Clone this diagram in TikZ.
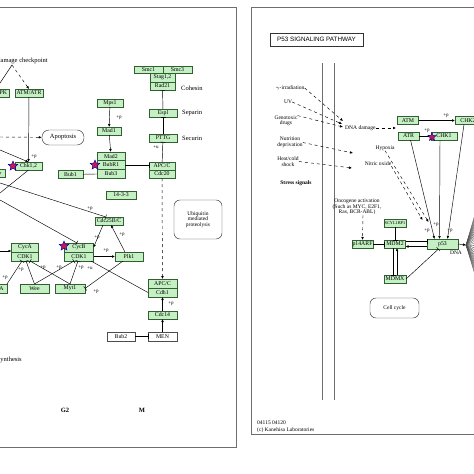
\documentclass[tikz,border=0pt]{standalone}
\usepackage{fontspec}
\setmainfont{Liberation Serif}
\setsansfont{Liberation Sans}
\usetikzlibrary{arrows.meta,shapes.geometric}
\definecolor{genefill}{RGB}{196,240,196}
\definecolor{boxline}{RGB}{50,95,50}
\definecolor{starred}{RGB}{200,25,75}
\definecolor{frame}{RGB}{110,110,110}
\newcommand\genefont{\fontsize{5.8}{6}\selectfont}
\newcommand\lblfont{\fontsize{6.5}{6.5}\selectfont}
\newcommand\smallfont{\fontsize{5.5}{5.5}\selectfont}
\newcommand\titlefont{\fontsize{6.3}{6.3}\selectfont}
\newcommand\ppfont{\fontsize{5}{5}\selectfont}

\begin{document}
\begin{tikzpicture}[x=1pt,y=-1pt,line width=0.45pt,
        gene/.style={draw=boxline, fill=genefill, inner sep=0pt, outer sep=0pt,
            minimum height=8pt, font=\genefont},
        plainbox/.style={gene, fill=white, draw=black!70},
        lbl/.style={font=\lblfont, inner sep=0pt, align=center},
        slbl/.style={font=\smallfont, inner sep=0pt, align=center},
        pp/.style={font=\ppfont, inner sep=0pt},
        roundbox/.style={draw=black!80, rounded corners=6pt, inner sep=0pt,
            align=center},
        kstar/.style={star, star points=5, star point ratio=2.2, fill=starred,
            draw=blue!70!black, inner sep=0pt, minimum size=10pt},
        act/.style={-{Latex[length=3pt,width=2.6pt]}},
        inh/.style={-{Bar[width=5pt]}}]
    \useasboundingbox (0,0) rectangle (474,474);
    \clip (0,0) rectangle (474,474);

    % Cadres des deux panneaux
    \draw[frame, line width=0.8pt] (-5,7) -- (236,7) -- (236,447) -- (-5,447);
    \draw[frame, line width=0.8pt] (480,7) -- (251,7) -- (251,434) -- (480,434);

    % ---------- Cycle cellulaire ----------
    \node[lbl, anchor=east] (ckpt) at (48,61) {DNA damage checkpoint};
    \coordinate (ck) at (12,65);
    \node[gene, minimum width=26pt] (dnapk) at (-4,93) {DNA-PK};
    \node[gene, minimum width=28pt] (atm) at (29,93) {ATM/ATR};
    \node[gene, minimum width=27pt] (chk12) at (28.5,166) {Chk1,2};
    \node[gene, minimum width=26pt] (gadd) at (-8,173.5) {14-3-3$\sigma$};
    \node[roundbox, minimum width=42pt, minimum height=15pt, font=\lblfont,
        rounded corners=7pt] (apo) at (63,137.5) {Apoptosis};
    \coordinate (apoin) at (0,137);
    \coordinate (chin) at (0,150);
    \coordinate (chout) at (0,193);
    \coordinate (la) at (0,183);
    \coordinate (lb) at (0,200);
    \draw (ck) -- (dnapk.north);
    \draw[act, dashed] (ck) -- (atm.north);
    \draw[act] (atm) -- (chk12);
    \node[pp] at (34,157) {+p};
    \draw[act, dashed] (apoin) -- (apo);
    \draw[act] (chin) -- (chk12.north);
    \draw (chk12.south) -- (chout);
    \node[kstar] at (13,166) {};

    % Cohesine, separine, securine
    \node[gene, minimum width=29pt, minimum height=7.5pt] (smc1) at (148.5,69.5) {Smc1};
    \node[gene, minimum width=29pt, minimum height=7.5pt] (smc3) at (177.5,69.5) {Smc3};
    \node[gene, minimum width=25pt, minimum height=8.5pt] (stag) at (162.5,77.5) {Stag1,2};
    \node[gene, minimum width=25pt, minimum height=8.5pt] (rad21) at (162.5,86) {Rad21};
    \node[gene, minimum width=28pt] (espl) at (163,113) {Espl};
    \node[gene, minimum width=28pt] (pttg) at (163,138) {PTTG};
    \node[lbl, anchor=west] (cohesin) at (181,88) {Cohesin};
    \node[lbl, anchor=west] (separin) at (182,113) {Separin};
    \node[lbl, anchor=west] (securin) at (182,138) {Securin};
    \draw[inh] (espl) -- (rad21);
    \draw[inh] (pttg) -- (espl);

    % Point de controle du fuseau
    \node[gene, minimum width=26pt] (mps1) at (110,103) {Mps1};
    \node[gene, minimum width=24pt] (mad1) at (109,131) {Mad1};
    \node[gene, minimum width=28pt, minimum height=8.7pt] (mad2) at (111,156.3) {Mad2};
    \node[gene, minimum width=28pt, minimum height=8.7pt] (bubr1) at (111,165) {BubR1};
    \node[gene, minimum width=28pt, minimum height=8.7pt] (bub3) at (111,173.7) {Bub3};
    \node[gene, minimum width=25pt] (bub1) at (70.5,174.5) {Bub1};
    \node[gene, minimum width=26pt] (apcc1) at (162,166) {APC/C};
    \node[gene, minimum width=26pt] (cdc20) at (162,174) {Cdc20};
    \draw[act] (mps1) -- (mad1);
    \node[pp] at (119,118) {+p};
    \draw[act] (mad1) -- (mad2);
    \draw (bub1) -- (bub3);
    \draw[inh] (bubr1.east) -- (apcc1.west |- bubr1.east);
    \draw[inh] (apcc1) -- (pttg);
    \node[pp] at (156,147) {+u};
    \node[kstar] at (95,165) {};
    \node[roundbox, minimum width=48pt, minimum height=39pt, font=\smallfont]
        (ubi) at (198,219.5) {Ubiquitin\\mediated\\proteolysis};

    % Entree en mitose
    \node[gene, minimum width=30pt] (b1433) at (121,195) {14-3-3};
    \node[gene, minimum width=28pt] (cdc25bc) at (109,221) {Cdc25B/C};
    \node[gene, minimum width=27pt, minimum height=9pt] (cyca) at (25,247.5) {CycA};
    \node[gene, minimum width=27pt, minimum height=9pt] (cdk1a) at (25,256.5) {CDK1};
    \node[gene, minimum width=29pt, minimum height=9pt] (cycb) at (79,247.5) {CycB};
    \node[gene, minimum width=29pt, minimum height=9pt] (cdk1b) at (79,256.5) {CDK1};
    \node[gene, minimum width=28pt, minimum height=9pt] (plk1) at (129,256.5) {Plk1};
    \node[gene, minimum width=26pt, minimum height=9pt] (cdc25a) at (-6,288.5) {Cdc25A};
    \node[gene, minimum width=29pt, minimum height=9pt] (wee) at (34.5,288.5) {Wee};
    \node[gene, minimum width=30pt, minimum height=9pt] (myt1) at (70,288.5) {Myt1};
    \draw[inh] (la) -- ([xshift=-3pt]cdc25bc.north);
    \node[pp] at (90,209) {+p};
    \draw[inh] (lb) -- ([xshift=-2pt]cycb.north);
    \draw[act] ([xshift=-6pt]cdc25bc.south) -- (cycb.east);
    \node[pp] at (97,238) {+p};
    \draw[act] ([xshift=-4pt]plk1.north) -- ([xshift=2pt]cdc25bc.south);
    \node[pp] at (122,235) {+p};
    \draw[act] (cdk1b) -- (plk1);
    \node[pp] at (106,251) {+p};
    \coordinate (cain) at (0,251);
    \draw[act] (cain) -- (cyca.west |- cain);
    \draw[inh] (cdc25a.north east) -- ([xshift=-3pt]cdk1a.south);
    \node[pp] at (5,278) {+p};
    \draw[inh] (wee.north) -- ([xshift=1pt]cdk1a.south);
    \draw[inh] (myt1.north) -- ([xshift=5pt]cdk1a.south);
    \draw[inh] (wee.north) -- ([xshift=-5pt]cdk1b.south);
    \draw[inh] (myt1.north) -- ([xshift=-1pt]cdk1b.south);
    \node[pp] at (21,270) {+p};
    \node[pp] at (43,268) {+p};
    \node[pp] at (59,268) {+p};
    \node[pp] at (81,268) {+p};
    \node[pp] at (90,268) {+u};
    \draw[inh] ([xshift=-6pt]plk1.south) -- (myt1.east);
    \node[pp] at (96,292) {+p};
    \node[kstar] at (64,246) {};

    % Sortie de mitose
    \node[gene, minimum width=29pt, minimum height=9pt] (apcc2) at (162.5,283.5) {APC/C};
    \node[gene, minimum width=29pt, minimum height=9pt] (cdh1) at (162.5,292.5) {Cdh1};
    \node[gene, minimum width=29pt] (cdc14) at (162.5,315) {Cdc14};
    \node[plainbox, minimum width=29pt, minimum height=9pt] (men) at (162.5,336.5) {MEN};
    \node[plainbox, minimum width=28pt, minimum height=9pt] (bub2) at (121,336.5) {Bub2};
    \draw[act, dashed] (cdc20) -- (apcc2);
    \draw ([xshift=12pt]cdk1b.south) -- (cdh1.west);
    \draw[act] (cdc14) -- (cdh1);
    \node[pp] at (171,304) {+p};
    \draw[act] (men) -- (cdc14);
    \draw[inh] (bub2) -- (men);

    % Phases
    \node[lbl, anchor=east] (synth) at (22,360) {DNA biosynthesis};
    \node[lbl, font=\lblfont\bfseries] (g2) at (65,410) {G2};
    \node[lbl, font=\lblfont\bfseries] (mph) at (142,410) {M};

    % ---------- Voie p53 ----------
    \node[draw=black!80, minimum width=93pt, minimum height=13pt, inner sep=0pt,
        font=\sffamily\titlefont] (title) at (316.5,39.5) {P53 SIGNALING PATHWAY};
    % Membrane
    \draw[frame, line width=1pt] (322,63) -- (322,400);
    \draw[frame, line width=1pt] (334,63) -- (334,400);

    % Signaux de stress
    \node[slbl] (gamma) at (290,88) {$\gamma$-irradiation};
    \node[slbl] (uv) at (288,102) {UV};
    \node[slbl] (geno) at (286,121) {Genotoxic\\drugs};
    \node[slbl] (nutri) at (290,142.5) {Nutrition\\deprivation};
    \node[slbl] (heat) at (288,161.5) {Heat/cold\\shock};
    \node[slbl, font=\smallfont\bfseries] (stress) at (296,183) {Stress signals};
    \node[slbl, anchor=west] (dnadmg) at (345,128) {DNA damage};
    \node[slbl] (hypoxia) at (385,148) {Hypoxia};
    \node[slbl] (nitric) at (378,164) {Nitric oxide};
    \node[slbl] (onco) at (357,207) {Oncogene activation\\(Such as MYC, E2F1,\\Ras, BCR-ABL)};
    \coordinate (nu) at (353,153);
    \coordinate (he) at (352,168);
    \coordinate (dd) at (396,128);
    \draw[act, dashed] (gamma.east) -- ([xshift=-2pt,yshift=7pt]dnadmg.west);
    \draw[act, dashed] (uv.east) -- ([xshift=-3pt,yshift=4pt]dnadmg.west);
    \draw[act, dashed] (geno.north east) -- ([xshift=-2pt,yshift=1pt]dnadmg.west);
    \draw[act, dashed] (nutri.east) -- (nu);
    \draw[act, dashed] (heat.east) -- (he);
    \draw[act, dashed] (dnadmg) -- (dd);

    % Kinases
    \node[gene, minimum width=21pt] (atm2) at (408,120.5) {ATM};
    \node[gene, minimum width=21pt] (atr) at (408.5,136) {ATR};
    \node[gene, minimum width=26pt] (chk2) at (468,120.5) {CHK2};
    \node[gene, minimum width=26pt] (chk1) at (444,136) {CHK1};
    \draw[act] (atm2) -- (chk2);
    \node[pp] at (446,116) {+p};
    \draw[act] (atr) -- (chk1);
    \node[pp] at (427,131) {+p};
    \node[kstar, minimum size=8.5pt] at (432,137) {};

    % p53 et ses regulateurs
    \node[gene, minimum width=31pt, minimum height=10pt] (p53) at (442.5,244) {p53};
    \node[gene, minimum width=21pt] (mdm2) at (395,244) {MDM2};
    \node[gene, minimum width=21pt] (p14arf) at (362.5,244) {p14ARF};
    \node[gene, minimum width=22pt, font=\fontsize{4.3}{5}\selectfont] (scyl) at (395,223) {SCYL1BP1};
    \node[gene, minimum width=22pt] (mdmx) at (395,279) {MDMX};
    \node[roundbox, minimum width=49pt, minimum height=20pt, font=\smallfont]
        (cellcyc) at (394.5,308) {Cell cycle};
    \draw[act] ([xshift=2pt]atr.south) -- ([xshift=-8pt]p53.north);
    \draw[act] ([xshift=-4pt]chk1.south) -- ([xshift=-3pt]p53.north);
    \draw[act] ([xshift=-4pt]chk2.south) -- ([xshift=5pt]p53.north);
    \draw[act, dashed] (hypoxia.south) -- ([xshift=-14pt,yshift=17pt]p53.north);
    \draw[act, dashed] (nitric.south east) -- ([xshift=-20pt,yshift=19pt]p53.north);
    \node[pp] at (427,231) {+p};
    \node[pp] at (436,225) {+p};
    \node[pp] at (450,231) {+p};
    \draw[act, dashed] ([xshift=6pt]onco.south) -- (p14arf.north);
    \draw[inh] (p14arf) -- (mdm2);
    \draw[inh] (scyl) -- (mdm2);
    \draw[inh] ([yshift=2.5pt]mdm2.east) -- ([yshift=2.5pt]p53.west);
    \draw[act] ([yshift=-2.5pt]p53.west) -- ([yshift=-2.5pt]mdm2.east);
    \draw[inh] ([xshift=-2pt]mdm2.south) -- ([xshift=-2pt]mdmx.north);
    \draw[act] ([xshift=2pt]mdmx.north) -- ([xshift=2pt]mdm2.south);
    \draw[inh] (mdmx.east) -- ([xshift=-4pt]p53.south);

    % Cibles sur l'ADN
    \coordinate (fan) at (466,245);
    \draw[act] (p53.east) -- (fan);
    \node[slbl] (dnalbl) at (456,253) {DNA};
    \foreach \yy in {204,207,...,286}
        \draw[black!70, line width=0.35pt] (fan) -- (478,\yy);

    % Copyright
    \node[slbl, anchor=west] (mapid) at (257,423) {04115 04120};
    \node[slbl, anchor=west] (kegg) at (257,430) {(c) Kanehisa Laboratories};
\end{tikzpicture}
\end{document}
